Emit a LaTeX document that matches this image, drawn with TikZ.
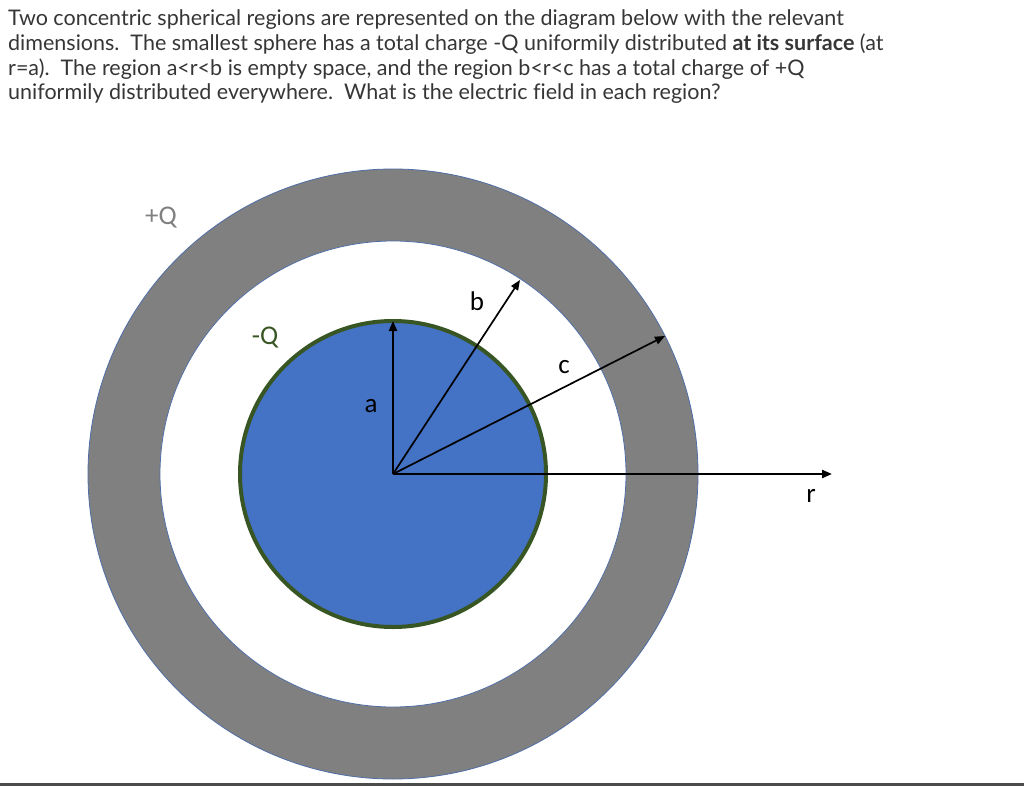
\documentclass[tikz,border=0pt]{standalone}
\usepackage{fontspec}
\setmainfont[Ligatures=NoCommon]{Lato}
\newfontfamily\lblfont{Carlito}
\usetikzlibrary{arrows.meta}
\definecolor{txtgray}{HTML}{363636}
\definecolor{ringgray}{HTML}{808080}
\definecolor{edgeblue}{HTML}{4F6EA8}
\definecolor{coreblue}{HTML}{4472C4}
\definecolor{coregreen}{HTML}{385623}
\tikzset{
  txt/.style={anchor=base west,inner sep=0pt,text=txtgray,font=\fontsize{21.5}{25}\selectfont},
  lbl/.style={inner sep=0pt,font=\lblfont\fontsize{27}{30}\selectfont},
  rad/.style={-{Triangle[length=10pt,width=8pt]},line width=1.7pt}
}
\begin{document}
\begin{tikzpicture}[x=1pt,y=-1pt]
\useasboundingbox (0,0) rectangle (1024,786);
\fill[white] (0,0) rectangle (1024,786);

% question text
\node[txt] (l1) at (8,25.5) {Two concentric spherical regions are represented on the diagram below with the relevant};
\node[txt] (l2) at (8,50.3) {dimensions.\ \ The smallest sphere has a total charge -Q uniformily distributed \textbf{at\ its\ surface}\ (at};
\node[txt] (l3) at (8,75.2) {r=a).\ \ The region a<r<b is empty space, and the region b<r<c has a total charge of +Q};
\node[txt] (l4) at (8,100) {uniformily distributed everywhere.\ \ What is the electric field in each region?};

% spheres
\coordinate (o) at (393,474);
\draw[fill=ringgray,draw=edgeblue,line width=0.8pt] (o) circle (305);
\draw[fill=white,draw=edgeblue,line width=0.8pt] (o) circle (233);
\draw[fill=coreblue,draw=coregreen,line width=4pt] (o) circle (153);

% radii
\coordinate (ta) at (393,321);
\coordinate (tb) at (520,280);
\coordinate (tc) at (665,336);
\coordinate (tr) at (832,474);
\draw[rad,line width=2.2pt] (o) -- (ta);
\draw[rad] (o) -- (tb);
\draw[rad] (o) -- (tc);
\draw[rad,line width=2.2pt] (o) -- (tr);

% labels
\node[lbl,text=ringgray] (pq) at (161,218) {+Q};
\node[lbl,text=coregreen] (mq) at (265,338) {-Q};
\node[lbl] (a) at (371,406) {a};
\node[lbl] (b) at (477,301) {b};
\node[lbl] (c) at (564,367) {c};
\node[lbl] (r) at (811,496) {r};

% bottom edge
\fill[black!70] (0,783) rectangle (1024,786);
\end{tikzpicture}
\end{document}
